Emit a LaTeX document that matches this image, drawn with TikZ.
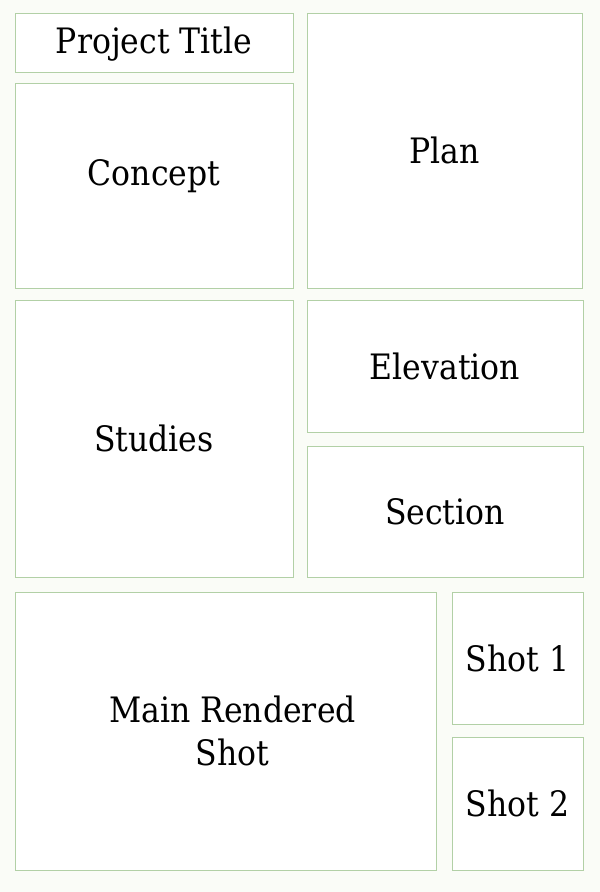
\documentclass[tikz,border=0pt]{standalone}
\usepackage{fontspec}
\setmainfont{DejaVu Serif Condensed}
\definecolor{pagebg}{RGB}{250,252,247}
\definecolor{frame}{RGB}{178,208,166}
\tikzset{
    panel/.style={draw=frame, line width=1pt, fill=white, inner sep=0pt,
        align=center, font=\fontsize{35}{43}\selectfont},
    caption/.style={align=center, font=\fontsize{35}{43}\selectfont},
}
\begin{document}
\begin{tikzpicture}[x=1pt,y=-1pt]
    \fill[pagebg] (0,0) rectangle (600,892);
    \useasboundingbox (0,0) rectangle (600,892);

    % left column
    \node[panel, minimum width=278pt, minimum height=59pt] (title) at (154,42.5) {};
    \node[caption] (titlelbl) at ([yshift=-2pt]title.center) {Project Title};
    \node[panel, minimum width=278pt, minimum height=205pt] (concept) at (154,185.5) {};
    \node[caption] (conceptlbl) at ([yshift=9pt]concept.center) {Concept};
    \node[panel, minimum width=278pt, minimum height=277pt] (studies) at (154,438.5) {Studies};

    % right column
    \node[panel, minimum width=275pt, minimum height=275pt] (plan) at (444.5,150.5) {Plan};
    \node[panel, minimum width=276pt, minimum height=132pt] (elevation) at (445,366) {Elevation};
    \node[panel, minimum width=276pt, minimum height=131pt] (section) at (445,511.5) {Section};

    % bottom row
    \node[panel, minimum width=421pt, minimum height=278pt] (render) at (225.5,731) {};
    \node[caption] (renderlbl) at ([xshift=7pt]render.center) {Main Rendered\\Shot};
    \node[panel, minimum width=131pt, minimum height=132pt] (shotA) at (517.5,658) {Shot 1};
    \node[panel, minimum width=131pt, minimum height=133pt] (shotB) at (517.5,803.5) {Shot 2};
\end{tikzpicture}
\end{document}
